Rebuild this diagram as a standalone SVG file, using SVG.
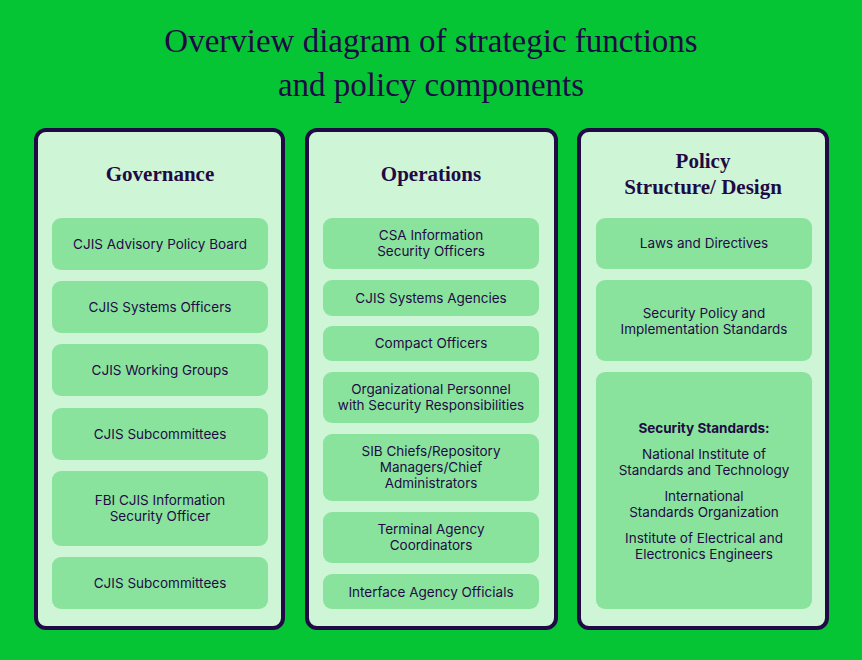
<svg xmlns="http://www.w3.org/2000/svg" width="862" height="660" viewBox="0 0 862 660">
<style>
.t{font-family:"Liberation Serif",serif;fill:#1f0a45;text-anchor:middle}
.p{fill:#cff5d7;stroke:#1f0a45;stroke-width:4}
.b{fill:#8ae39d}
.l{font-family:Inter,"Liberation Sans",sans-serif;font-size:13.5px;fill:#1f0a45;text-anchor:middle}
</style>
<rect width="862" height="660" fill="#06c535"/>
<text class="t" x="431" y="52" font-size="33">Overview diagram of strategic functions</text>
<text class="t" x="431" y="96" font-size="33">and policy components</text>
<g id="governance">
<rect class="p" x="36" y="130" width="247" height="498" rx="10"/>
<text class="t" x="160" y="181" font-size="21" font-weight="bold">Governance</text>
<rect class="b" x="52" y="218" width="216" height="52" rx="9"/><text class="l" x="160" y="249">CJIS Advisory Policy Board</text>
<rect class="b" x="52" y="281" width="216" height="52" rx="9"/><text class="l" x="160" y="312">CJIS Systems Officers</text>
<rect class="b" x="52" y="344" width="216" height="52" rx="9"/><text class="l" x="160" y="375">CJIS Working Groups</text>
<rect class="b" x="52" y="408" width="216" height="52" rx="9"/><text class="l" x="160" y="439">CJIS Subcommittees</text>
<rect class="b" x="52" y="471" width="216" height="75" rx="9"/><text class="l" x="160" y="505">FBI CJIS Information</text><text class="l" x="160" y="521">Security Officer</text>
<rect class="b" x="52" y="557" width="216" height="52" rx="9"/><text class="l" x="160" y="588">CJIS Subcommittees</text>
</g>
<g id="operations">
<rect class="p" x="307" y="130" width="249" height="498" rx="10"/>
<text class="t" x="431" y="181" font-size="21" font-weight="bold">Operations</text>
<rect class="b" x="323" y="218" width="216" height="51" rx="9"/><text class="l" x="431" y="240">CSA Information</text><text class="l" x="431" y="256">Security Officers</text>
<rect class="b" x="323" y="280" width="216" height="36" rx="9"/><text class="l" x="431" y="303">CJIS Systems Agencies</text>
<rect class="b" x="323" y="326" width="216" height="35" rx="9"/><text class="l" x="431" y="348">Compact Officers</text>
<rect class="b" x="323" y="372" width="216" height="51" rx="9"/><text class="l" x="431" y="394">Organizational Personnel</text><text class="l" x="431" y="410">with Security Responsibilities</text>
<rect class="b" x="323" y="434" width="216" height="67" rx="9"/><text class="l" x="431" y="456">SIB Chiefs/Repository</text><text class="l" x="431" y="472">Managers/Chief</text><text class="l" x="431" y="488">Administrators</text>
<rect class="b" x="323" y="512" width="216" height="51" rx="9"/><text class="l" x="431" y="534">Terminal Agency</text><text class="l" x="431" y="550">Coordinators</text>
<rect class="b" x="323" y="574" width="216" height="35" rx="9"/><text class="l" x="431" y="597">Interface Agency Officials</text>
</g>
<g id="policy">
<rect class="p" x="579" y="130" width="248" height="498" rx="10"/>
<text class="t" x="703" y="168" font-size="21" font-weight="bold">Policy</text>
<text class="t" x="703" y="194" font-size="21" font-weight="bold">Structure/ Design</text>
<rect class="b" x="596" y="218" width="216" height="51" rx="9"/><text class="l" x="704" y="248">Laws and Directives</text>
<rect class="b" x="596" y="280" width="216" height="81" rx="9"/><text class="l" x="704" y="318">Security Policy and</text><text class="l" x="704" y="334">Implementation Standards</text>
<rect class="b" x="596" y="372" width="216" height="237" rx="9"/>
<text class="l" x="704" y="433" font-weight="bold">Security Standards:</text>
<text class="l" x="704" y="459">National Institute of</text><text class="l" x="704" y="475">Standards and Technology</text>
<text class="l" x="704" y="501">International</text><text class="l" x="704" y="517">Standards Organization</text>
<text class="l" x="704" y="543">Institute of Electrical and</text><text class="l" x="704" y="559">Electronics Engineers</text>
</g>
<g id="connectors"/>
</svg>
